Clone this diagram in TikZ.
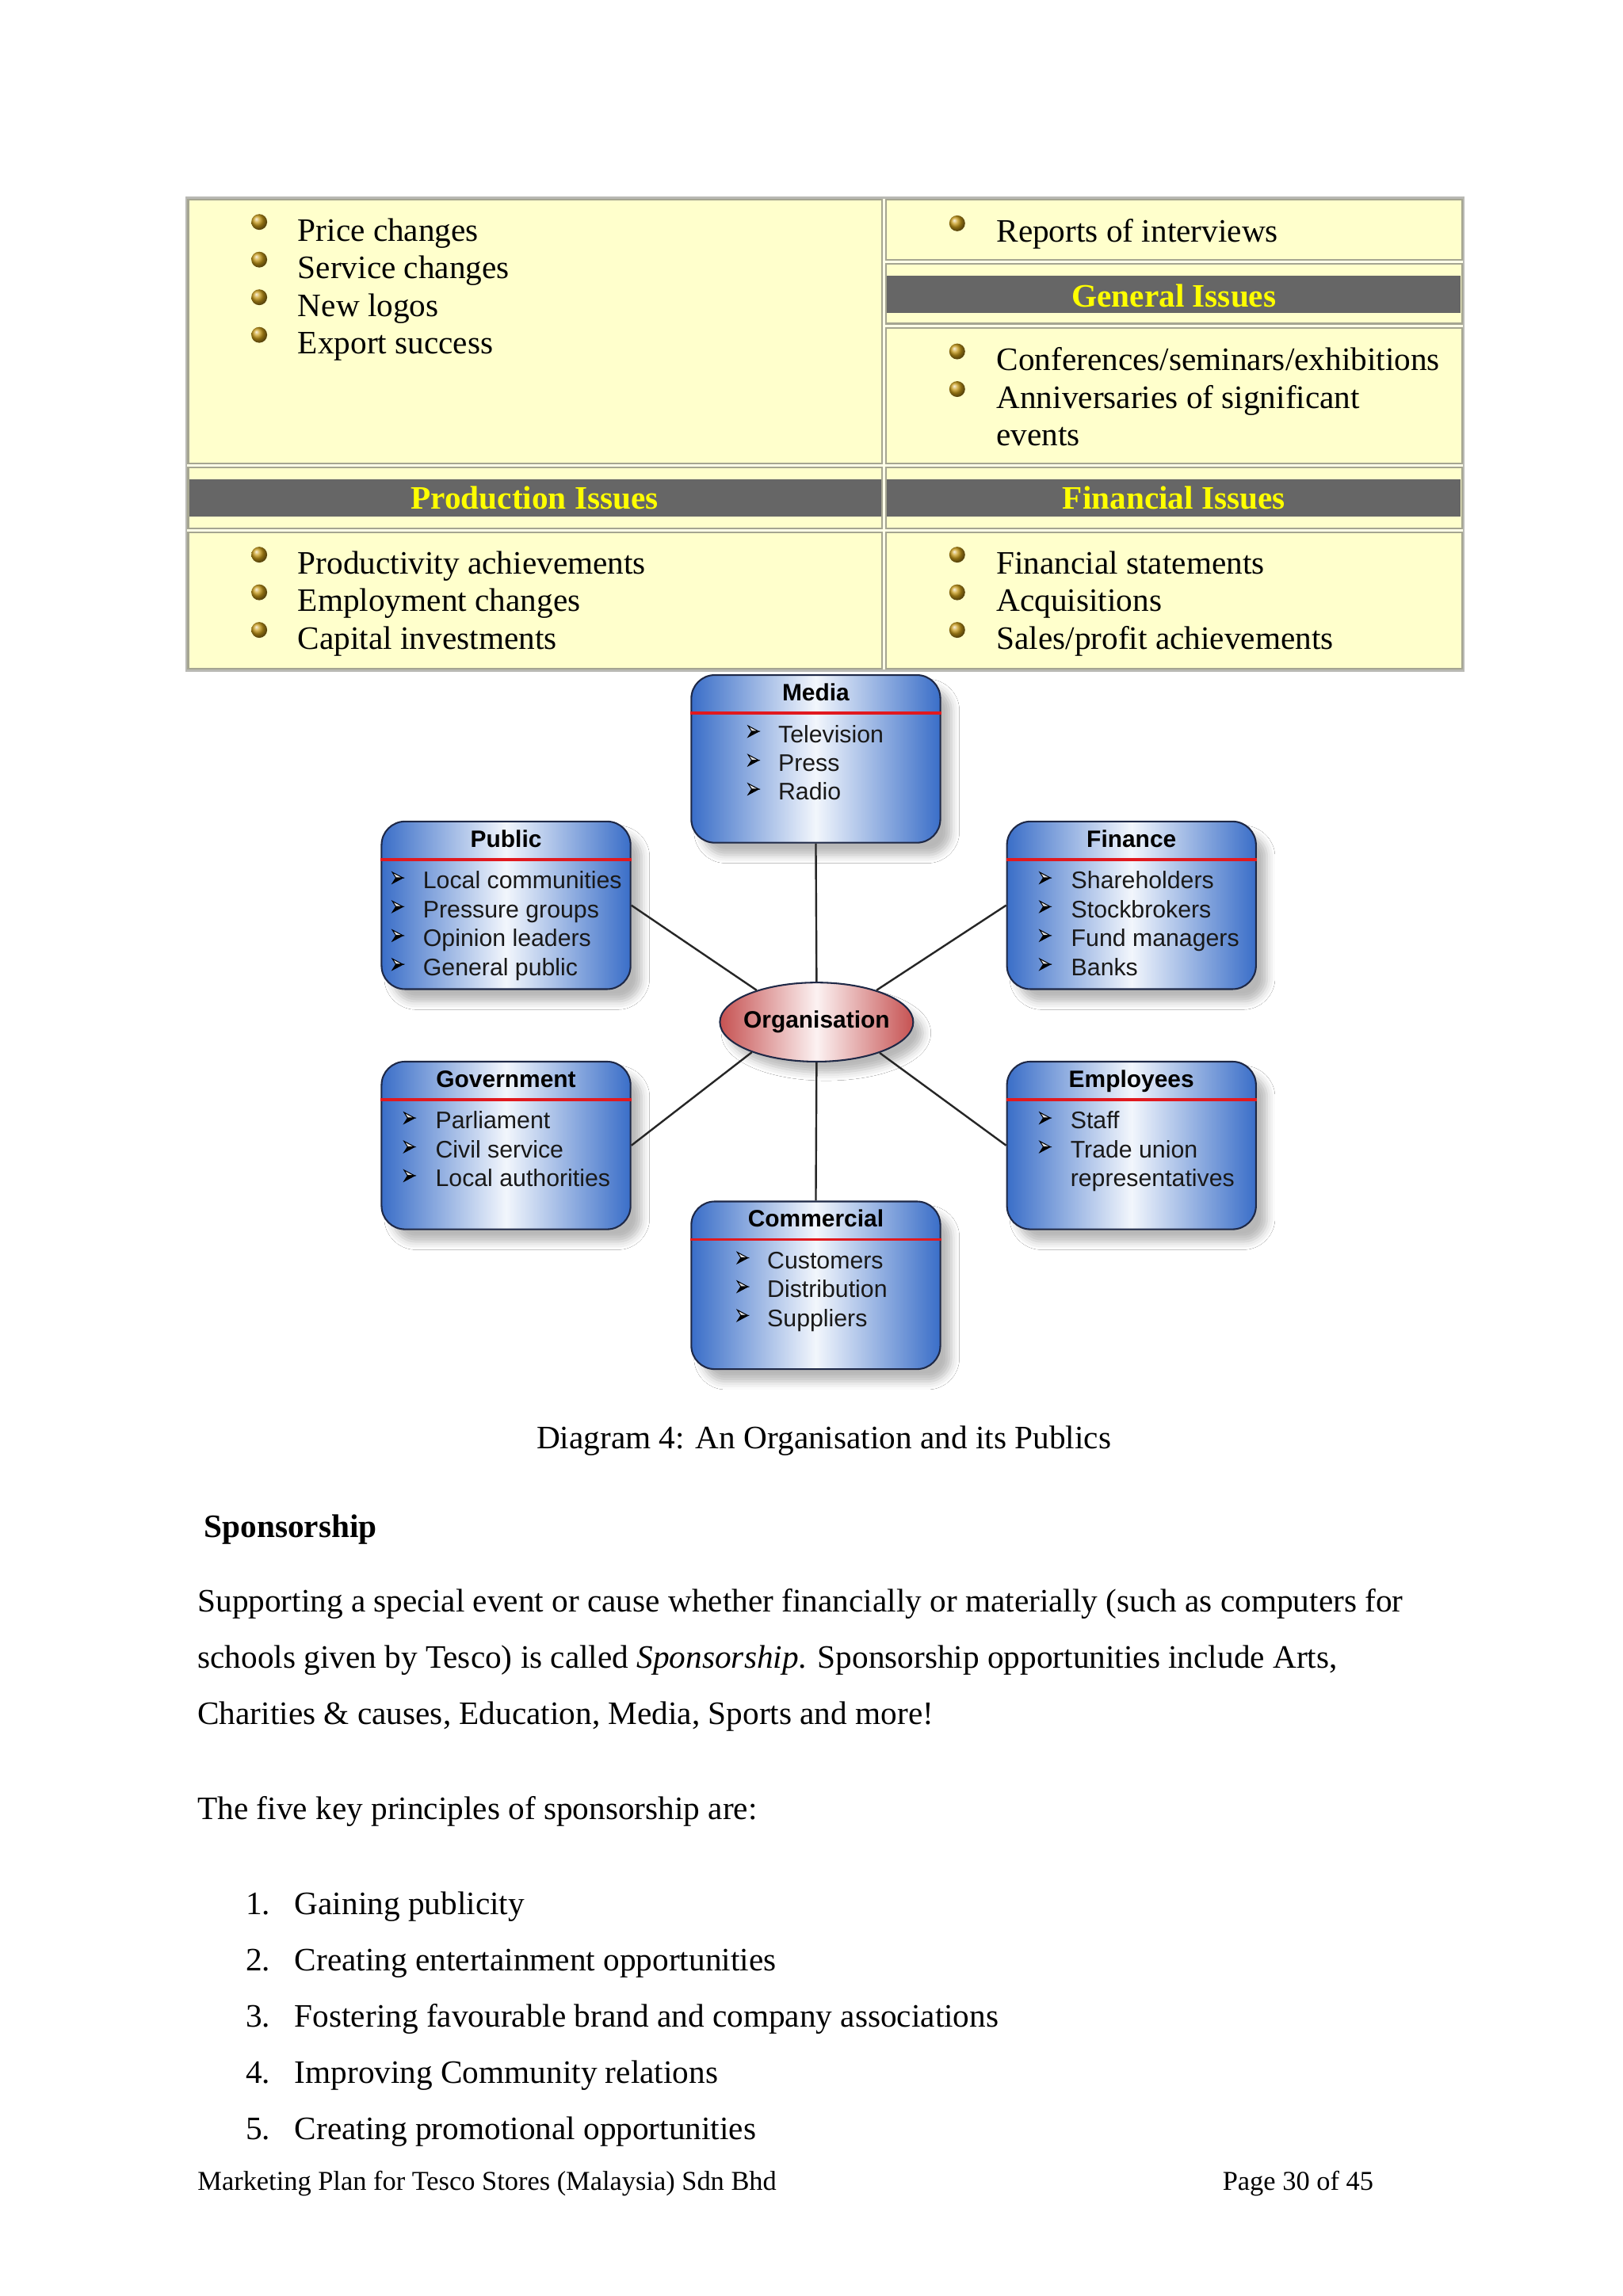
\documentclass[tikz,border=0pt]{standalone}
\usepackage{fontspec}
\setmainfont{Liberation Serif}
\setsansfont{Liberation Sans}
\usetikzlibrary{shapes.geometric,shadows.blur}

\definecolor{cellyel}{RGB}{255,255,204}
\definecolor{gapyel}{RGB}{255,255,232}
\definecolor{cellline}{RGB}{165,165,145}
\definecolor{outerline}{RGB}{185,185,180}
\definecolor{bandgray}{RGB}{102,102,102}
\definecolor{hdryellow}{RGB}{255,255,0}
\definecolor{boxblue}{RGB}{58,110,200}
\definecolor{boxmid}{RGB}{242,246,252}
\definecolor{boxline}{RGB}{30,40,70}
\definecolor{orgred}{RGB}{198,82,82}
\definecolor{orgmid}{RGB}{252,242,242}
\definecolor{goldball}{RGB}{200,155,25}
\definecolor{redrule}{RGB}{225,25,30}

\begin{document}
\begin{tikzpicture}[x=0.5373pt,y=-0.5373pt,
  cell/.style={draw=cellline, line width=0.6pt, fill=cellyel},
  band/.style={fill=bandgray},
  hdr/.style={anchor=base, inner sep=0pt, text=hdryellow, font=\fontsize{12pt}{14pt}\selectfont\bfseries},
  ttext/.style={anchor=base west, inner sep=0pt, font=\fontsize{12pt}{14pt}\selectfont},
  ptext/.style={anchor=base west, inner sep=0pt, font=\fontsize{12pt}{14pt}\selectfont},
  pubbox/.style={rectangle, rounded corners=8.6pt, draw=boxline, line width=0.6pt,
    minimum width=170*0.5373pt, minimum height=114.5*0.5373pt, inner sep=0pt,
    left color=boxblue, right color=boxblue, middle color=boxmid,
    blur shadow={shadow xshift=4pt, shadow yshift=-4.5pt, shadow blur radius=3pt, shadow opacity=28}},
  boxtitle/.style={anchor=base, inner sep=0pt, font=\fontsize{8.7pt}{10pt}\selectfont\sffamily\bfseries},
  itemtxt/.style={anchor=base west, inner sep=0pt, text=black!90, font=\fontsize{8.8pt}{10.5pt}\selectfont\sffamily},
  redline/.style={draw=redrule, line width=1pt},
  orgell/.style={ellipse, draw=boxline, line width=0.6pt, minimum width=132*0.5373pt,
    minimum height=54*0.5373pt, inner sep=0pt,
    left color=orgred, right color=orgred, middle color=orgmid,
    blur shadow={shadow xshift=3.5pt, shadow yshift=-4pt, shadow blur radius=3pt, shadow opacity=28}},
  orgtxt/.style={inner sep=0pt, font=\fontsize{8.7pt}{10pt}\selectfont\sffamily\bfseries},
  conn/.style={draw=black!85, line width=0.7pt},
  arrowpic/.pic={
    \filldraw[fill=white!80!gray, draw=black, line width=0.3pt] (3.6,0) -- (-3.6,-3.8) -- (-1.2,0) -- cycle;
    \filldraw[fill=black, draw=black, line width=0.3pt] (3.6,0) -- (-1.2,0) -- (-3.6,3.8) -- cycle;
  }
]
\useasboundingbox (0,0) rectangle (1108,1568);
\fill[white] (0,0) rectangle (1108,1568);

% ---------------- table ----------------
\draw[draw=outerline, line width=0.6pt, fill=gapyel] (127,135) rectangle (999.5,458);
\draw[cell] (128.5,136.5) rectangle (602,316.6);
\draw[cell] (128.5,319.3) rectangle (602,361);
\draw[cell] (128.5,363.5) rectangle (602,456.5);
\draw[cell] (605,136.5) rectangle (998,177.5);
\draw[cell] (605,180) rectangle (998,221);
\draw[cell] (605,224) rectangle (998,316.6);
\draw[cell] (605,319.3) rectangle (998,361);
\draw[cell] (605,363.5) rectangle (998,456.5);
\fill[band] (129.2,327.4) rectangle (601.4,352.8);
\fill[band] (605.6,327.4) rectangle (997.4,352.8);
\fill[band] (605.6,188.4) rectangle (997.4,213.8);
\node[hdr] (hgen) at (801.5,209.5) {General Issues};
\node[hdr] (hprod) at (365,347.8) {Production Issues};
\node[hdr] (hfin) at (801.5,347.8) {Financial Issues};

% bullets left column
\foreach \t/\y in {{Price changes}/164.6, {Service changes}/190.3, {New logos}/216, {Export success}/241.7,
  {Productivity achievements}/391.8, {Employment changes}/417.5, {Capital investments}/443.2}{
  \shade[ball color=goldball] (177,\y-13) circle (2.9pt);
  \node[ttext] at (203,\y) {\t};
}
% bullets right column
\foreach \t/\y in {{Reports of interviews}/165.5, {Conferences/seminars/exhibitions}/253,
  {Anniversaries of significant}/278.7, {Financial statements}/391.8, {Acquisitions}/417.5,
  {Sales/profit achievements}/443.2}{
  \shade[ball color=goldball] (653.5,\y-13) circle (2.9pt);
  \node[ttext] at (680,\y) {\t};
}
\node[ttext] at (680,304.4) {events};

% ---------------- diagram ----------------
\node[orgell] (org) at (557.5,698) {};

\node[pubbox] (media) at (557,518.25) {};
\node[pubbox] (public) at (345.5,618.25) {};
\node[pubbox] (finance) at (772.5,618.25) {};
\node[pubbox] (gov) at (345.5,782.25) {};
\node[pubbox] (emp) at (772.5,782.25) {};
\node[pubbox] (comm) at (557,877.75) {};

\draw[conn] (media.south) -- (org.north);
\draw[conn] (public.east) -- (org.152);
\draw[conn] (finance.west) -- (org.28);
\draw[conn] (gov.east) -- (org.205);
\draw[conn] (emp.west) -- (org.334);
\draw[conn] (comm.north) -- (org.south);

\node[orgtxt] (orglabel) at (557.5,698) {Organisation};

% titles and red rules
\foreach \n/\t in {media/Media, public/Public, finance/Finance, gov/Government, emp/Employees, comm/Commercial}{
  \node[boxtitle] (\n-title) at ([yshift=-18*0.5373pt]\n.north) {\t};
  \draw[redline] ([yshift=-26.5*0.5373pt]\n.north west) -- ([yshift=-26.5*0.5373pt]\n.north east);
}

% items
\foreach \t [count=\i from 0] in {Television,Press,Radio}{
  \pic at (514.4,507-7.5+19.7*\i) {arrowpic};
  \node[itemtxt] at (531,507+19.7*\i) {\t};
}
\foreach \t [count=\i from 0] in {Local communities,Pressure groups,Opinion leaders,General public}{
  \pic at (271.5,607-7.5+19.7*\i) {arrowpic};
  \node[itemtxt] at (288.5,607+19.7*\i) {\t};
}
\foreach \t [count=\i from 0] in {Shareholders,Stockbrokers,Fund managers,Banks}{
  \pic at (713.5,607-7.5+19.7*\i) {arrowpic};
  \node[itemtxt] at (731,607+19.7*\i) {\t};
}
\foreach \t [count=\i from 0] in {Parliament,Civil service,Local authorities}{
  \pic at (279.5,771-7.5+19.7*\i) {arrowpic};
  \node[itemtxt] at (297,771+19.7*\i) {\t};
}
\foreach \t [count=\i from 0] in {Staff,Trade union}{
  \pic at (713.5,771-7.5+19.7*\i) {arrowpic};
  \node[itemtxt] at (730.5,771+19.7*\i) {\t};
}
\node[itemtxt] at (730.5,810.4) {representatives};
\foreach \t [count=\i from 0] in {Customers,Distribution,Suppliers}{
  \pic at (507,866.5-7.5+19.7*\i) {arrowpic};
  \node[itemtxt] at (523.5,866.5+19.7*\i) {\t};
}

% ---------------- page text ----------------
\node[anchor=base, inner sep=0pt, font=\fontsize{12pt}{14pt}\selectfont] (caption) at (562.5,989.5)
  {Diagram 4: An Organisation and its Publics};
\node[ptext, font=\fontsize{12pt}{14pt}\selectfont\bfseries] (sponhead) at (139,1049.8) {Sponsorship};
\node[ptext] (p1) at (134.6,1100.8) {Supporting a special event or cause whether financially or materially (such as computers for};
\node[ptext] (p2) at (134.6,1139.3) {schools given by Tesco) is called \textit{Sponsorship}. Sponsorship opportunities include Arts,};
\node[ptext] (p3) at (134.6,1177.8) {Charities \& causes, Education, Media, Sports and more!};
\node[ptext] (p4) at (134.6,1242.8) {The five key principles of sponsorship are:};
\foreach \t [count=\i] in {Gaining publicity, Creating entertainment opportunities,
  Fostering favourable brand and company associations, Improving Community relations,
  Creating promotional opportunities}{
  \node[ptext] at (167.5,1307.3+38.45*\i-38.45) {\i.};
  \node[ptext] at (200.8,1307.3+38.45*\i-38.45) {\t};
}
\node[anchor=base west, inner sep=0pt, font=\fontsize{10pt}{12pt}\selectfont] (foot) at (134.6,1496)
  {Marketing Plan for Tesco Stores (Malaysia) Sdn Bhd};
\node[anchor=base east, inner sep=0pt, font=\fontsize{10pt}{12pt}\selectfont] (pageno) at (938,1496)
  {Page 30 of 45};
\end{tikzpicture}
\end{document}
